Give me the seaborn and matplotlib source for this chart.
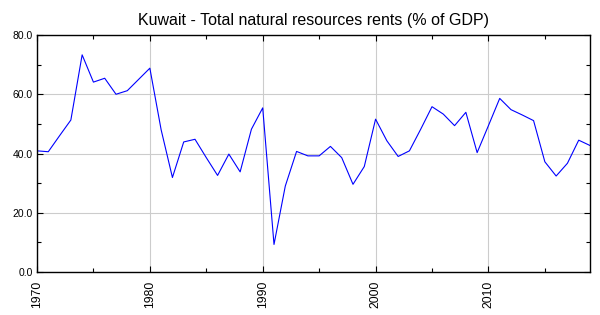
import matplotlib
matplotlib.use("Agg")
import matplotlib.pyplot as plt
import seaborn as sns
import pandas as pd
from matplotlib.ticker import MultipleLocator, FormatStrFormatter

years = list(range(1970, 2020))
values = [40.9, 40.6, 46.0, 51.3, 73.3, 64.1, 65.4, 60.0, 61.2, 65.0,
          68.8, 48.0, 31.9, 43.9, 44.8, 38.6, 32.6, 39.8, 33.8, 48.2,
          55.4, 9.3, 29.0, 40.7, 39.2, 39.2, 42.4, 38.6, 29.6, 35.6,
          51.6, 44.3, 39.0, 40.9, 48.2, 55.8, 53.3, 49.4, 53.9, 40.3,
          49.4, 58.6, 54.8, 53.0, 51.1, 37.2, 32.4, 36.7, 44.5, 42.7]
title = "Kuwait - Total natural resources rents (% of GDP)"

df = pd.DataFrame({"year": years, "value": values})

sns.set_style("white")
plt.rcParams['font.family'] = ['Liberation Sans', 'DejaVu Sans']
plt.rcParams['text.color'] = 'black'
plt.rcParams['xtick.color'] = 'black'
plt.rcParams['ytick.color'] = 'black'

fig = plt.figure(figsize=(6, 3.15), dpi=100)
ax = fig.add_axes([37/600, 1-272/315, (590-37)/600, (272-35)/315])

sns.lineplot(data=df, x="year", y="value", ax=ax, color="#0000ff", linewidth=0.8)

ax.set_xlim(1970, 2019)
ax.set_ylim(0, 80)
ax.xaxis.set_major_locator(MultipleLocator(10))
ax.xaxis.set_minor_locator(MultipleLocator(5))
ax.yaxis.set_major_locator(MultipleLocator(20))
ax.yaxis.set_minor_locator(MultipleLocator(10))
ax.yaxis.set_major_formatter(FormatStrFormatter("%.1f"))
ax.grid(True, which="major", color="#cccccc", linewidth=0.8)
ax.set_axisbelow(True)
ax.tick_params(which="both", direction="in", top=True, right=True,
               bottom=True, left=True, color="black", width=0.8)
ax.tick_params(axis="x", labelsize=8.8, pad=6)
ax.tick_params(axis="y", labelsize=7.5, pad=3)
ax.tick_params(which="major", length=4)
ax.tick_params(which="minor", length=3)
for lbl in ax.get_xticklabels():
    lbl.set_rotation(90)
for s in ax.spines.values():
    s.set_color("black")
    s.set_linewidth(1.0)
ax.set_xlabel("")
ax.set_ylabel("")
fig.suptitle(title, x=(138+489)/1200, y=1-20/315, va="center", fontsize=11.5)

fig.savefig("out.png", dpi=100)
